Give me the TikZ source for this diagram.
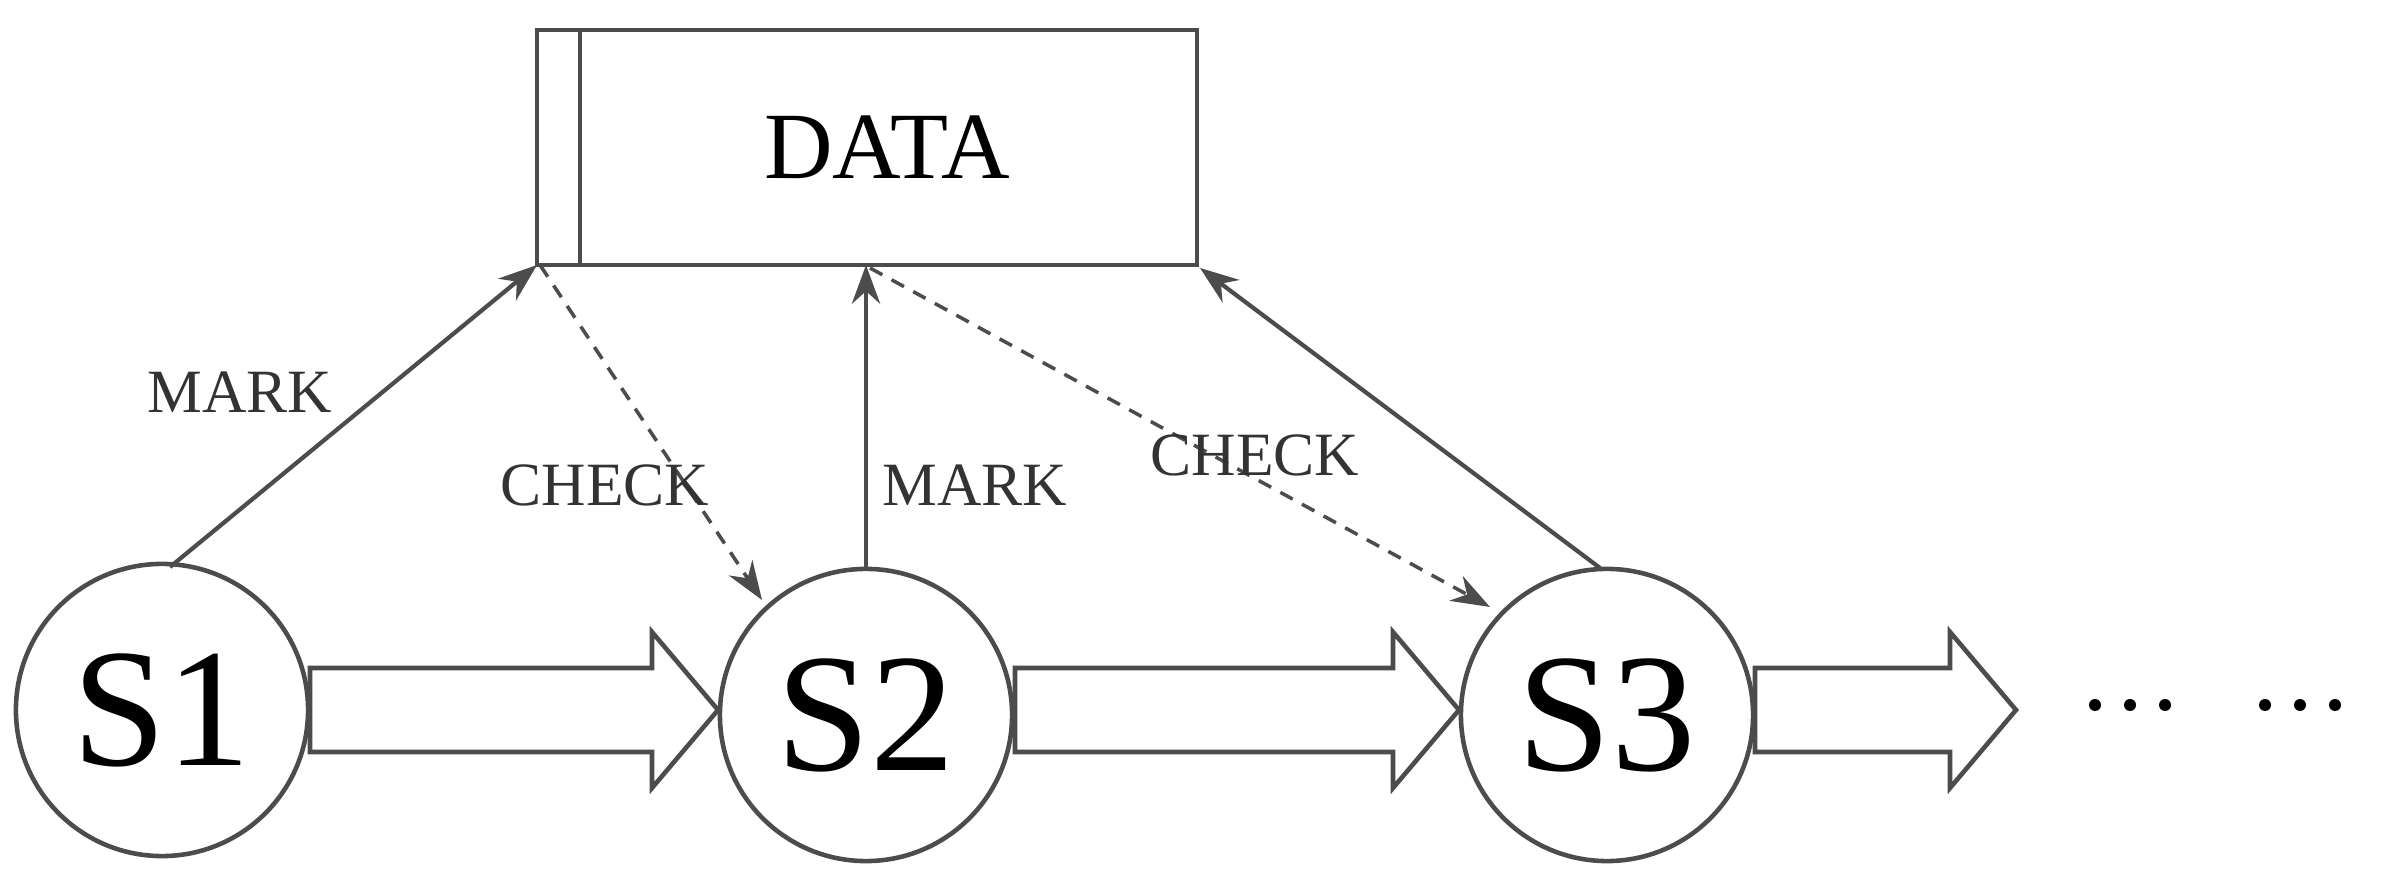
\documentclass[tikz,border=0pt]{standalone}
\usepackage{fontspec}
\setmainfont{Liberation Serif}
\usetikzlibrary{arrows.meta}
\begin{document}
\begin{tikzpicture}[x=0.01cm,y=-0.01cm,
  st/.style={circle,draw=black!70,line width=1.3pt,minimum size=2.92cm,inner sep=0pt,font=\fontsize{48}{48}\selectfont},
  lbl/.style={font=\fontsize{17.5}{17.5}\selectfont,text=black!80},
  con/.style={draw=black!70,line width=1.2pt,-{Stealth[length=11pt,width=8pt]}},
  dcon/.style={con,dashed,dash pattern=on 4pt off 3pt,line width=1pt},
  hol/.style={draw=black!70,line width=1.3pt,fill=white}]
\useasboundingbox (0,0) rectangle (2387,889);
\node[draw=black!70,line width=1.3pt,minimum width=6.6cm,minimum height=2.35cm,inner sep=0pt,font=\fontsize{27}{27}\selectfont] (data) at (867,147.5) {\hspace{0.4cm}DATA};
\draw[black!70,line width=1.3pt] (580,30) -- (580,265);
\node[st] (s1) at (162,710) {S1};
\node[st] (s2) at (866,715) {S2};
\node[st] (s3) at (1607,715) {S3};
\coordinate (d1) at (537,265);
\coordinate (d2) at (866,265);
\coordinate (d3) at (1200,268);
\draw[hol] (310,668) -- (652,668) -- (652,632) -- (718,710) -- (652,788) -- (652,752) -- (310,752) -- cycle;
\draw[hol] (1015,668) -- (1393,668) -- (1393,632) -- (1459,710) -- (1393,788) -- (1393,752) -- (1015,752) -- cycle;
\draw[hol] (1755,668) -- (1950,668) -- (1950,632) -- (2016,710) -- (1950,788) -- (1950,752) -- (1755,752) -- cycle;
\foreach \x [count=\i] in {2095,2130,2165,2265,2300,2335}
  \fill (\x,705) circle (6);
\draw[con] (170,567) -- (d1);
\draw[dcon] (540,265) -- (762,600);
\draw[con] (s2.north) -- (d2);
\draw[dcon] (870,268) -- (1490,607);
\draw[con] (1600,568) -- (d3);
\node[lbl] (m1) at (240,392) {MARK};
\node[lbl] (c1) at (605,485) {CHECK};
\node[lbl] (m2) at (975,485) {MARK};
\node[lbl] (c2) at (1255,455) {CHECK};
\end{tikzpicture}
\end{document}
